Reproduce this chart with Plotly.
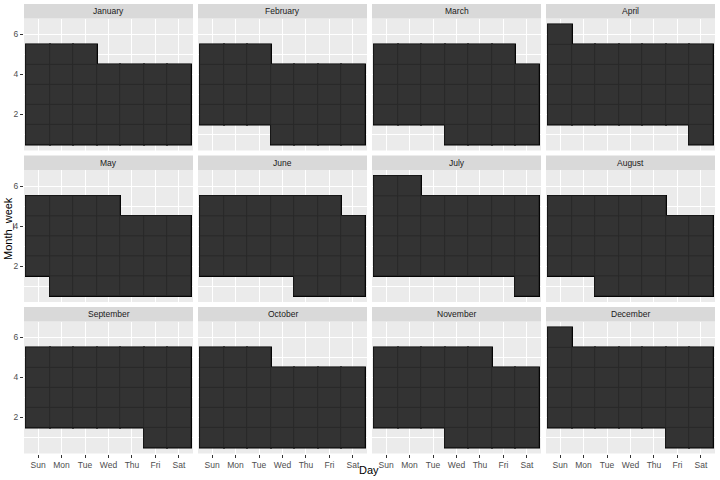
import plotly.graph_objects as go

W, H = 720, 480

months = ["January", "February", "March", "April", "May", "June",
          "July", "August", "September", "October", "November", "December"]
days = ["Sun", "Mon", "Tue", "Wed", "Thu", "Fri", "Sat"]

# For each month: first and last Month_week occupied by each weekday (Sun..Sat)
week_start = {
    "January":   [1, 1, 1, 1, 1, 1, 1],
    "February":  [2, 2, 2, 1, 1, 1, 1],
    "March":     [2, 2, 2, 1, 1, 1, 1],
    "April":     [2, 2, 2, 2, 2, 2, 1],
    "May":       [2, 1, 1, 1, 1, 1, 1],
    "June":      [2, 2, 2, 2, 1, 1, 1],
    "July":      [2, 2, 2, 2, 2, 2, 1],
    "August":    [2, 2, 1, 1, 1, 1, 1],
    "September": [2, 2, 2, 2, 2, 1, 1],
    "October":   [1, 1, 1, 1, 1, 1, 1],
    "November":  [2, 2, 2, 1, 1, 1, 1],
    "December":  [2, 2, 2, 2, 2, 1, 1],
}
week_end = {
    "January":   [5, 5, 5, 4, 4, 4, 4],
    "February":  [5, 5, 5, 4, 4, 4, 4],
    "March":     [5, 5, 5, 5, 5, 5, 4],
    "April":     [6, 5, 5, 5, 5, 5, 5],
    "May":       [5, 5, 5, 5, 4, 4, 4],
    "June":      [5, 5, 5, 5, 5, 5, 4],
    "July":      [6, 6, 5, 5, 5, 5, 5],
    "August":    [5, 5, 5, 5, 5, 4, 4],
    "September": [5, 5, 5, 5, 5, 5, 5],
    "October":   [5, 5, 5, 4, 4, 4, 4],
    "November":  [5, 5, 5, 5, 5, 4, 4],
    "December":  [6, 5, 5, 5, 5, 5, 5],
}
y_ticks = [2, 4, 6]
y_minor = [1, 3, 5]

FONT = "Liberation Sans, Arial, Helvetica, sans-serif"
col_x = [(24, 193), (198, 367), (372, 541), (546, 715)]
rows = [((4, 18.5), (18.5, 150.5)), ((155.5, 170), (170, 302)), ((307, 321.5), (321.5, 453.5))]

fig = go.Figure()
layout = dict(
    width=W, height=H, margin=dict(l=0, r=0, t=0, b=0),
    paper_bgcolor="white", plot_bgcolor="#EBEBEB",
    showlegend=False, barmode="overlay", bargap=0,
    font=dict(family=FONT, color="#4D4D4D"),
)
shapes, annotations = [], []

for i, m in enumerate(months):
    r, c = divmod(i, 4)
    (sy0, sy1), (py0, py1) = rows[r]
    x0, x1 = col_x[c]
    xs, ys, bases = [], [], []
    for d, s, e in zip(days, week_start[m], week_end[m]):
        for wk in range(s, e + 1):
            xs.append(d)
            ys.append(1)
            bases.append(wk - 0.5)
    ax = "" if i == 0 else str(i + 1)
    for lw, lc in ((2.0, "#000000"), (0.5, "#2C2C2C")):
        fig.add_trace(go.Bar(
            x=xs, y=ys, base=bases, width=1,
            marker=dict(color="#333333", line=dict(color=lc, width=lw)),
            xaxis="x" + ax, yaxis="y" + ax, hoverinfo="skip",
        ))
    bottom = r == 2
    left = c == 0
    layout["xaxis" + ax] = dict(
        domain=[x0 / W, x1 / W], anchor="y" + ax,
        type="category", categoryorder="array", categoryarray=days,
        range=[-0.6, 6.6], showgrid=True, gridcolor="white", gridwidth=1.3,
        zeroline=False, showline=False,
        ticks="outside" if bottom else "", ticklen=3, tickcolor="#333333", tickwidth=1,
        showticklabels=bottom, tickfont=dict(size=8.5, color="#4D4D4D", family=FONT),
    )
    layout["yaxis" + ax] = dict(
        domain=[1 - py1 / H, 1 - py0 / H], anchor="x" + ax,
        range=[0.2, 6.8], tickvals=y_ticks, ticktext=[str(v) for v in y_ticks],
        showgrid=True, gridcolor="white", gridwidth=1.3,
        minor=dict(tickvals=y_minor, showgrid=True, gridcolor="white", gridwidth=0.6, ticks=""),
        zeroline=False, showline=False,
        ticks="outside" if left else "", ticklen=3, tickcolor="#333333", tickwidth=1,
        showticklabels=left, tickfont=dict(size=8.5, color="#4D4D4D", family=FONT),
    )
    shapes.append(dict(type="rect", xref="paper", yref="paper",
                       x0=x0 / W, x1=x1 / W, y0=1 - sy1 / H, y1=1 - sy0 / H,
                       fillcolor="#D9D9D9", line=dict(width=0), layer="below"))
    annotations.append(dict(text=m, xref="paper", yref="paper",
                            x=(x0 + x1) / 2 / W, y=1 - (sy0 + sy1) / 2 / H,
                            xanchor="center", yanchor="middle", showarrow=False,
                            font=dict(size=8.5, color="#1A1A1A", family=FONT)))

annotations.append(dict(text="Day", xref="paper", yref="paper",
                        x=(24 + 715) / 2 / W, y=1 - 470 / H, xanchor="center", yanchor="middle",
                        showarrow=False, font=dict(size=11, color="#000000", family=FONT)))
annotations.append(dict(text="Month_week", xref="paper", yref="paper", textangle=-90,
                        x=8 / W, y=1 - 229 / H, xanchor="center", yanchor="middle",
                        showarrow=False, font=dict(size=11, color="#000000", family=FONT)))

layout["shapes"] = shapes
layout["annotations"] = annotations
fig.update_layout(**layout)
fig.write_html("out.html", config={"displayModeBar": False},
               post_script="document.body.style.margin='0';document.body.style.overflow='hidden';")
